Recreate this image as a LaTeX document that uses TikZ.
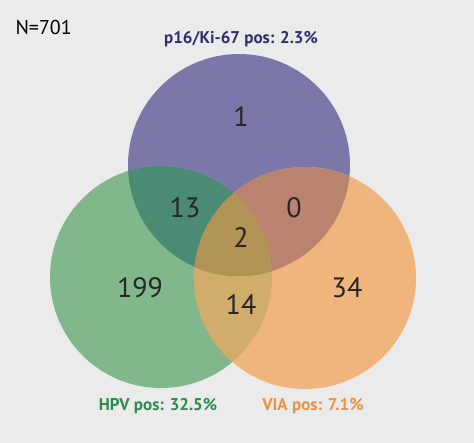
\documentclass[tikz,border=0pt]{standalone}
\usepackage{fontspec}
\setmainfont{PT Sans}
\usepackage{xcolor}
\usetikzlibrary{positioning}
\definecolor{canvas}{HTML}{EBEBEB}
\definecolor{setpurple}{HTML}{7B78A9}
\definecolor{setgreen}{HTML}{80B78B}
\definecolor{setorange}{HTML}{EFB57C}
\definecolor{mixteal}{HTML}{4B8A73}
\definecolor{mixrust}{HTML}{B98370}
\definecolor{mixochre}{HTML}{D0AD6A}
\definecolor{mixcore}{HTML}{B29356}
\definecolor{inknavy}{HTML}{2E2F6E}
\definecolor{inkgreen}{HTML}{2E8B50}
\definecolor{inkorange}{HTML}{EA9240}

\begin{document}
\begin{tikzpicture}[x=1pt,y=-1pt,
  count/.style={font=\fontsize{28}{28}\selectfont, text=black!85},
  setlabel/.style={font=\bfseries\fontsize{17}{17}\selectfont}]
\fill[canvas] (0,0) rectangle (474,443);
\coordinate (ctop) at (239,165);
\coordinate (cleft) at (161,277);
\coordinate (cright) at (305,278);
% single sets
\fill[setpurple] (ctop) circle (111pt);
\fill[setgreen] (cleft) circle (111pt);
\fill[setorange] (cright) circle (111pt);
% overlaps
\begin{scope}
  \clip (cleft) circle (111pt);
  \fill[mixochre] (cright) circle (111pt);
\end{scope}
\begin{scope}
  \clip (ctop) circle (111pt);
  \fill[mixteal] (cleft) circle (111pt);
  \fill[mixrust] (cright) circle (111pt);
\end{scope}
\begin{scope}
  \clip (ctop) circle (111pt);
  \clip (cleft) circle (111pt);
  \fill[mixcore] (cright) circle (111pt);
\end{scope}
% texts
\node[anchor=west, font=\fontsize{20}{20}\selectfont] (total) at (12,28) {N=701};
\node[setlabel, text=inknavy] (labtop) at (241,39) {p16/Ki-67 pos: 2.3\%};
\node[setlabel, text=inkgreen] (lableft) at (158,406) {HPV pos: 32.5\%};
\node[setlabel, text=inkorange] (labright) at (313,406) {VIA pos: 7.1\%};
\node[count] (ponly) at (241,117) {1};
\node[count] (pg) at (185,208) {13};
\node[count] (po) at (294,208) {0};
\node[count] (pgo) at (241,238) {2};
\node[count] (gonly) at (140,288) {199};
\node[count] (go) at (241,305) {14};
\node[count] (oonly) at (347,288) {34};
\end{tikzpicture}
\end{document}
